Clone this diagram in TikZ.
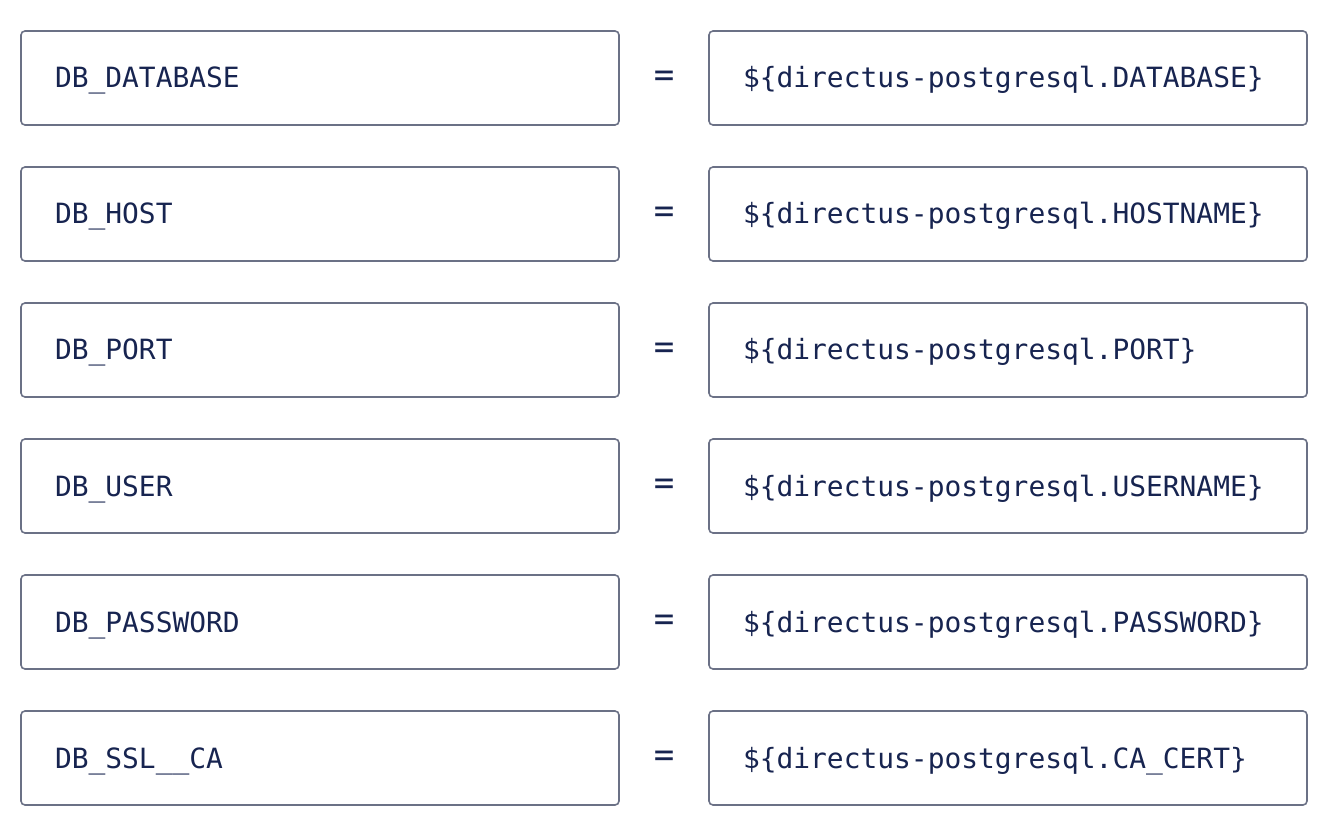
\documentclass[tikz,border=0pt]{standalone}
\usepackage{fontspec}
\setmonofont{DejaVu Sans Mono}
\definecolor{txt}{HTML}{172450}
\definecolor{brd}{HTML}{6B7186}
\begin{document}
\begin{tikzpicture}[x=1pt,y=-1pt,
  box/.style={draw=brd,line width=1.6pt,rounded corners=4pt,minimum width=598pt,minimum height=94pt,text width=530pt,align=left,inner sep=0pt,font=\ttfamily\fontsize{27.9}{30}\selectfont,text=txt},
  eq/.style={font=\ttfamily\fontsize{34}{34}\selectfont,text=txt}]
\useasboundingbox (0,0) rectangle (1334,834);
\foreach \i/\l/\r in {0/DB\_DATABASE/DATABASE,1/DB\_HOST/HOSTNAME,2/DB\_PORT/PORT,3/DB\_USER/USERNAME,4/DB\_PASSWORD/PASSWORD,5/DB\_SSL\_\_CA/CA\_CERT}{
  \node[box] (l\i) at (320,78+136*\i) {\raisebox{-10pt}[0pt][0pt]{\l}};
  \node[box] (r\i) at (1008,78+136*\i) {\raisebox{-10pt}[0pt][0pt]{\$\{directus-postgresql.\r\}}};
  \node[eq] (e\i) at (664,79+136*\i) {=};
}
\end{tikzpicture}
\end{document}
